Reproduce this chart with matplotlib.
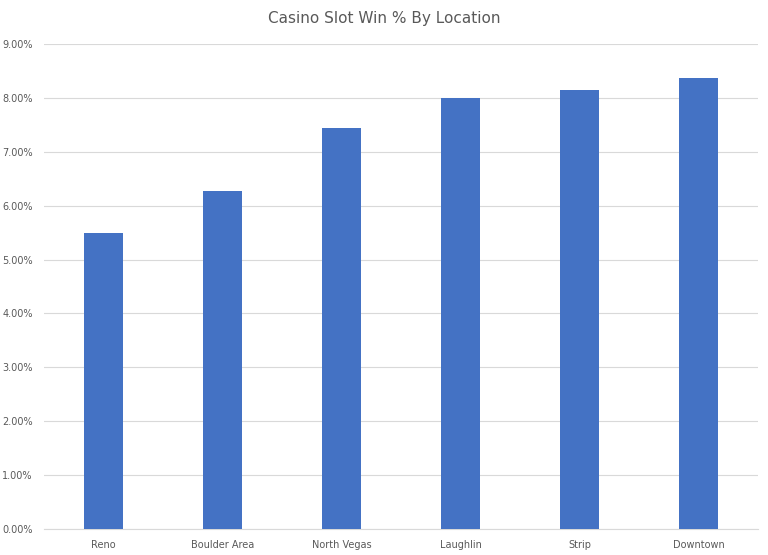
import matplotlib.pyplot as plt
from matplotlib.ticker import FuncFormatter, MultipleLocator

# Data
LOCATIONS = ["Reno", "Boulder Area", "North Vegas", "Laughlin", "Strip", "Downtown"]
WIN_PCT = [5.50, 6.28, 7.45, 7.99, 8.15, 8.36]

fig = plt.figure(figsize=(7.68, 5.55), dpi=100)
ax = fig.add_axes([44 / 768, 1 - 529 / 555, 714 / 768, 485 / 555])

x = range(len(LOCATIONS))
ax.bar(x, WIN_PCT, width=0.32, color="#4472C4", zorder=3)

ax.set_xlim(-0.5, len(LOCATIONS) - 0.5)
ax.set_ylim(0, 9)
ax.yaxis.set_major_locator(MultipleLocator(1))
ax.yaxis.set_major_formatter(FuncFormatter(lambda v, _: f"{v:.2f}%"))
ax.set_xticks(list(x))
ax.set_xticklabels(LOCATIONS)
ax.grid(axis="y", color="#D9D9D9", linewidth=0.8, zorder=0)
ax.tick_params(axis="both", length=0, labelsize=7, colors="#595959", pad=8)

for side in ["top", "right", "left"]:
    ax.spines[side].set_visible(False)
ax.spines["bottom"].set_color("#D9D9D9")

fig.text(0.5, 1 - 18 / 555, "Casino Slot Win % By Location", ha="center", va="center",
         fontsize=11, color="#595959")

fig.savefig("out.png", dpi=100)
